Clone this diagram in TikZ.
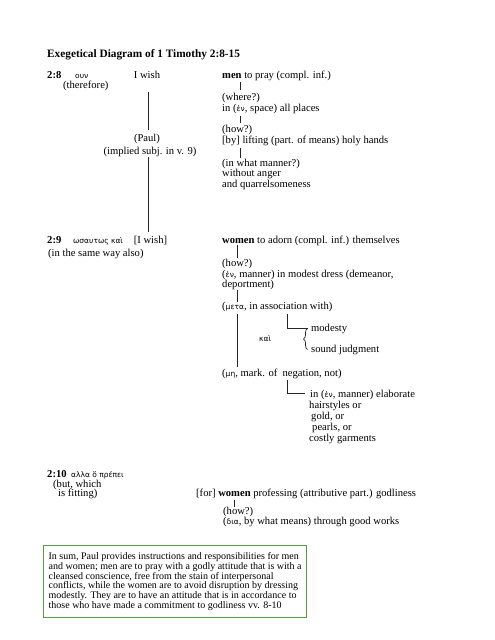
\documentclass[tikz,border=0pt]{standalone}
\usepackage{fontspec}
\setmainfont{Liberation Serif}
\newfontfamily\grkfont{DejaVu Sans}
\usetikzlibrary{calc,decorations.pathreplacing}
\definecolor{boxgreen}{RGB}{84,158,64}
\newcommand{\grtxt}[1]{{\grkfont\fontsize{7.5}{9}\selectfont #1}}
\tikzset{
  txt/.style={anchor=base west, inner sep=0pt, font=\fontsize{10.6}{11}\selectfont},
  ctxt/.style={txt, anchor=base},
  vnum/.style={txt, font=\bfseries\fontsize{10.6}{11}\selectfont},
  conn/.style={line width=0.9pt, black!85},
}
\begin{document}
\begin{tikzpicture}[x=1pt,y=-1pt]
\useasboundingbox[fill=white] (0,0) rectangle (495,640);

% title
\node[txt, font=\bfseries\fontsize{11.3}{13}\selectfont] (title) at (47,57) {Exegetical Diagram of 1 Timothy 2:8-15};

% 2:8
\node[vnum] (v8) at (47,78) {2:8};
\node[txt] (oun) at (75,78) {\grtxt{ουν}};
\node[txt] (therefore) at (63,88.5) {(therefore)};
\node[ctxt] (iwish) at (147,78) {I wish};
\node[ctxt] (paul) at (147,141.5) {(Paul)};
\node[ctxt] (implied) at (150,154.5) {(implied subj. in v. 9)};

\node[txt] (men) at (222,78.5) {\textbf{men} to pray (compl. inf.)};
\node[txt] (where) at (222,100.5) {(where?)};
\node[txt] (inspace) at (222,111.5) {in (\grtxt{ἐν}, space) all places};
\node[txt] (how1) at (222,132.5) {(how?)};
\node[txt] (lifting) at (222,143.5) {[by] lifting (part. of means) holy hands};
\node[txt] (manner) at (222,166.5) {(in what manner?)};
\node[txt] (anger) at (222,176.5) {without anger};
\node[txt] (quarrel) at (222,187.5) {and quarrelsomeness};

% 2:9
\node[vnum] (v9) at (47,243.5) {2:9};
\node[txt] (hosautos) at (73,243.5) {\grtxt{ωσαυτως καὶ}};
\node[ctxt] (iwishb) at (150.5,243.5) {[I wish]};
\node[txt] (sameway) at (48,256.5) {(in the same way also)};

\node[txt] (women) at (222,243.5) {\textbf{women} to adorn (compl. inf.) themselves};
\node[txt] (how2) at (222,266.5) {(how?)};
\node[txt] (modest) at (222,277.5) {(\grtxt{ἐν}, manner) in modest dress (demeanor,};
\node[txt] (deport) at (222,287.5) {deportment)};
\node[txt] (meta) at (222,309.5) {(\grtxt{μετα}, in association with)};
\node[txt] (modesty) at (311,331.5) {modesty};
\node[txt] (kai) at (259,341.5) {\grtxt{καὶ}};
\node[txt] (sound) at (311,352.5) {sound judgment};
\node[txt] (meh) at (222,376.5) {(\grtxt{μη}, mark. of\ \ negation, not)};
\node[txt] (elaborate) at (310,397.5) {in (\grtxt{ἐν}, manner) elaborate};
\node[txt] (hair) at (309,408.5) {hairstyles or};
\node[txt] (gold) at (311,419.5) {gold, or};
\node[txt] (pearls) at (312,430.5) {pearls, or};
\node[txt] (costly) at (309,441.5) {costly garments};

% 2:10
\node[vnum] (v10) at (47,477.5) {2:10};
\node[txt] (alla) at (71,477.5) {\grtxt{αλλα ὅ πρέπει}};
\node[txt] (but) at (53,487) {(but, which};
\node[txt] (fitting) at (58,496.5) {is fitting)};
\node[txt] (forwomen) at (196,496.5) {[for] \textbf{women} professing (attributive part.) godliness};
\node[txt] (how3) at (223,514.5) {(how?)};
\node[txt] (dia) at (223,524.5) {(\grtxt{δια}, by what means) through good works};

% summary box
\node[draw=boxgreen, line width=1.3pt, anchor=north west, inner xsep=3pt, inner ysep=0pt,
      minimum width=263pt, minimum height=72pt, align=left,
      font=\fontsize{10}{9.7}\selectfont] (summary) at (43,545)
  {In sum, Paul provides instructions and responsibilities for men\\
   and women; men are to pray with a godly attitude that is with a\\
   cleansed conscience, free from the stain of interpersonal\\
   conflicts, while the women are to avoid disruption by dressing\\
   modestly. They are to have an attitude that is in accordance to\\
   those who have made a commitment to godliness vv. 8-10};

% connectors: main verb line
\draw[conn] ($(iwish.base)+(1,14)$) -- ($(paul.base)+(1,-11.5)$);
\draw[conn] ($(implied.base)+(-2,2.5)$) -- ($(iwishb.base)+(-2.5,-11.5)$);

% men ticks
\draw[conn] ($(men.base west)+(18,3.5)$) -- ($(where.base west)+(18,-10.5)$);
\draw[conn] ($(inspace.base west)+(18,4.5)$) -- ($(how1.base west)+(18,-9.5)$);
\draw[conn] ($(lifting.base west)+(18,4.5)$) -- ($(manner.base west)+(18,-8.5)$);

% women lines
\draw[conn] ($(women.base west)+(15,1.5)$) -- ($(how2.base west)+(15,-8.5)$);
\draw[conn] ($(deport.base west)+(15,2.5)$) -- ($(meta.base west)+(15,-7.5)$);
\draw[conn] ($(meta.base west)+(15,4.5)$) -- ($(meh.base west)+(15,-9.5)$);

% bracket to modesty / sound judgment
\draw[conn] ($(meta.base west)+(65,4.5)$) |- ($(modesty.base west)+(-3.5,-3)$);
\draw[conn, line width=0.7pt, decorate, decoration={brace, amplitude=4pt}]
  ($(sound.base west)+(-3.5,-3)$) -- ($(modesty.base west)+(-3.5,-3)$);

% negation to elaborate
\draw[conn] ($(meh.base west)+(65,3)$) |- ($(elaborate.base west)+(-5,-4.5)$);

% 2:10 tick
\draw[conn] ($(forwomen.base west)+(38,3.5)$) -- ($(how3.base west)+(11,-7.5)$);
\end{tikzpicture}
\end{document}
